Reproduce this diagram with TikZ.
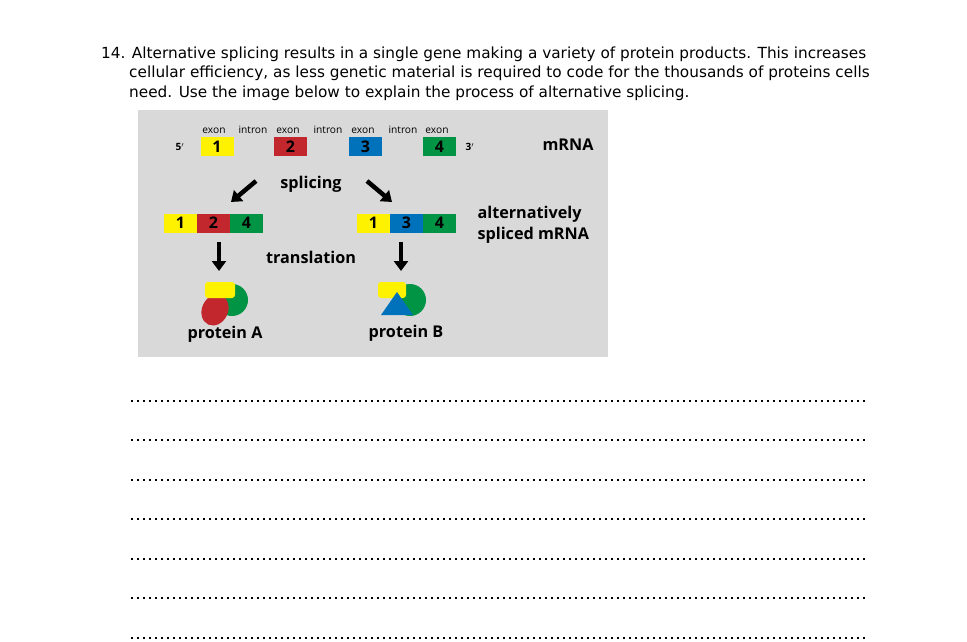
\documentclass[tikz,border=0pt]{standalone}
\usepackage{fontspec}
\setmainfont{DejaVu Sans}
\newfontfamily\dfont{Open Sans}
\usetikzlibrary{arrows.meta}
\begin{document}
\begin{tikzpicture}[x=1pt,y=-1pt,
  ex/.style={draw=none,minimum width=33pt,minimum height=19pt,inner sep=0pt,font=\dfont\bfseries\fontsize{16}{16}\selectfont},
  sm/.style={font=\dfont\fontsize{10.2}{10}\selectfont},
  lb/.style={font=\dfont\bfseries\fontsize{16.2}{21}\selectfont},
  big/.style={-{Triangle[length=10pt,width=14pt]},line width=4.5pt},
  q/.style={anchor=west,inner sep=0pt,font=\fontsize{15.3}{17}\selectfont},
  dl/.style={line width=1.8pt,dash pattern=on 1.8pt off 4.2pt}]
\useasboundingbox (0,0) rectangle (967,641);
\definecolor{cy}{HTML}{FFF200}\definecolor{cr}{HTML}{C1272D}
\definecolor{cb}{HTML}{0072BC}\definecolor{cg}{HTML}{009444}
\node[q] (l1) at (101,54) {14. Alternative splicing results in a single gene making a variety of protein products. This increases};
\node[q] (l2) at (129,73) {cellular efficiency, as less genetic material is required to code for the thousands of proteins cells};
\node[q] (l3) at (129,93) {need. Use the image below to explain the process of alternative splicing.};
\fill[gray!30] (138,110) rectangle (608,357);
% top mRNA
\node[ex,fill=cy] (e1) at (217,146.5) {1};
\node[ex,fill=cr] (e2) at (290.5,146.5) {2};
\node[ex,fill=cb] (e3) at (365.5,146.5) {3};
\node[ex,fill=cg] (e4) at (439.5,146.5) {4};
\node[sm] (x1) at (214,131) {exon};
\node[sm] (i1) at (253,130) {intron};
\node[sm] (x2) at (288,131) {exon};
\node[sm] (i2) at (328,130) {intron};
\node[sm] (x3) at (363,131) {exon};
\node[sm] (i3) at (403,130) {intron};
\node[sm] (x4) at (437,131) {exon};
\node[sm,font=\dfont\bfseries\fontsize{10}{10}\selectfont] (p5) at (180,147) {5$'$};
\node[sm,font=\dfont\bfseries\fontsize{10}{10}\selectfont] (p3) at (470,147) {3$'$};
\node[lb] (mr) at (568,145) {mRNA};
\node[lb] (sp) at (311,184) {splicing};
\coordinate (a1s) at (256,181); \coordinate (a1e) at (231,202);
\coordinate (a2s) at (367,181); \coordinate (a2e) at (392,202);
\draw[big] (a1s) -- (a1e);
\draw[big] (a2s) -- (a2e);
% spliced
\node[ex,fill=cy] (l1b) at (180.5,223) {1};
\node[ex,fill=cr] (l2b) at (213.5,223) {2};
\node[ex,fill=cg] (l4b) at (246.5,223) {4};
\node[ex,fill=cy] (r1b) at (373.5,223) {1};
\node[ex,fill=cb] (r3b) at (406.5,223) {3};
\node[ex,fill=cg] (r4b) at (439.5,223) {4};
\node[lb,anchor=west,align=left] (alt) at (474,225) {alternatively\\spliced mRNA};
\node[lb] (tr) at (311,257) {translation};
\coordinate (d1s) at (219,242); \coordinate (d1e) at (219,271);
\coordinate (d2s) at (401,242); \coordinate (d2e) at (401,271);
\draw[big] (d1s) -- (d1e);
\draw[big] (d2s) -- (d2e);
% protein A
\fill[cg] (232,300) circle (16);
\fill[cr,rotate around={65:(215,310)}] (215,310) ellipse (16 and 13);
\fill[cy,rounded corners=3pt] (205,282) rectangle (235,298);
\node[lb] (pa) at (225,334) {protein A};
% protein B
\fill[cg] (410,300) circle (16);
\fill[cy,rounded corners=3pt] (378,282) rectangle (406,298);
\fill[cb] (381,315) -- (397,292) -- (413,315) -- cycle;
\node[lb] (pb) at (406,333) {protein B};
% dotted lines
\foreach \y in {401,440,480,519,559,598,638}{\draw[dl] (131,\y) -- (868,\y);}
\end{tikzpicture}
\end{document}
